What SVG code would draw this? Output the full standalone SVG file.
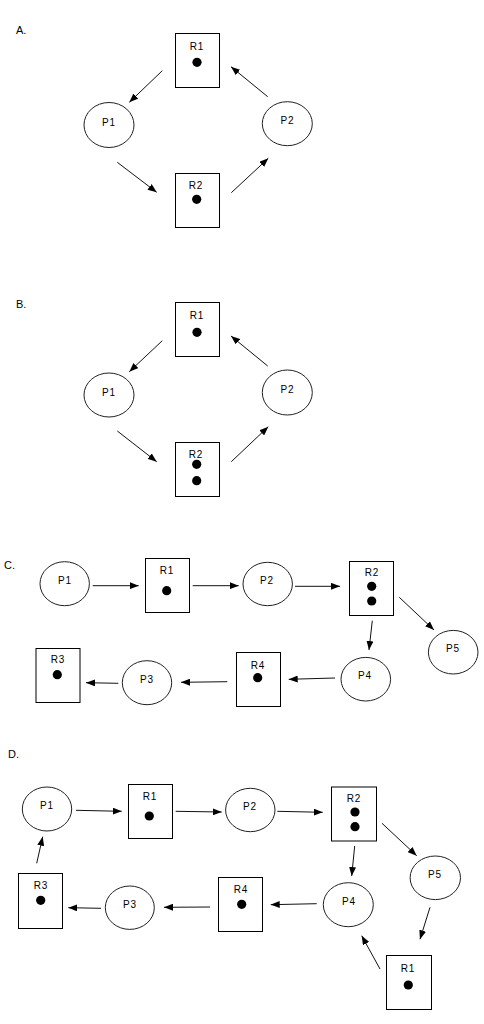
<svg xmlns="http://www.w3.org/2000/svg" width="484" height="1024" viewBox="0 0 484 1024">
<defs>
<marker id="ah" markerWidth="9" markerHeight="7" refX="9" refY="3.5" orient="auto" markerUnits="userSpaceOnUse">
<path d="M0,0 L9,3.5 L0,7 z" fill="#000"/>
</marker>
<style>
.bg{fill:#fff}
.r{fill:#fff;stroke:#000;stroke-width:1}
.p{fill:#fff;stroke:#222;stroke-width:1}
.d{fill:#000}
.t{font-family:"Liberation Sans",Arial,sans-serif;font-size:10px;fill:#000;text-anchor:middle;letter-spacing:0.8px}
.s{font-family:"Liberation Sans",Arial,sans-serif;font-size:11px;fill:#000}
.c line{stroke:#111;stroke-width:1;marker-end:url(#ah)}
</style>
</defs>
<rect class="bg" x="0" y="0" width="484" height="1024"/>

<!-- Section A -->
<text class="s" x="16" y="34">A.</text>
<g id="A-R1"><rect class="r" x="175.5" y="33.5" width="44" height="54"/><text class="t" x="197" y="50">R1</text><circle class="d" cx="197" cy="62.3" r="4.6"/></g>
<g id="A-P1"><ellipse class="p" cx="109" cy="125" rx="25" ry="22.5"/><text class="t" x="109" y="126">P1</text></g>
<g id="A-P2"><ellipse class="p" cx="287.3" cy="123.7" rx="25" ry="22"/><text class="t" x="287.5" y="124">P2</text></g>
<g id="A-R2"><rect class="r" x="175.5" y="173.5" width="44" height="54"/><text class="t" x="196" y="188.5">R2</text><circle class="d" cx="196.7" cy="199.3" r="4.6"/></g>
<g id="A-edges" class="c">
<line x1="162.3" y1="70.7" x2="129.3" y2="102.3"/>
<line x1="267.7" y1="96.7" x2="231" y2="66.7"/>
<line x1="117.3" y1="162.3" x2="156.7" y2="192.3"/>
<line x1="231.3" y1="192.7" x2="268.3" y2="158.3"/>
</g>

<!-- Section B -->
<text class="s" x="16" y="308">B.</text>
<g id="B-R1"><rect class="r" x="175.5" y="302.5" width="44" height="54"/><text class="t" x="197" y="318.5">R1</text><circle class="d" cx="197" cy="332.3" r="4.6"/></g>
<g id="B-P1"><ellipse class="p" cx="109" cy="395" rx="25" ry="22"/><text class="t" x="109" y="396">P1</text></g>
<g id="B-P2"><ellipse class="p" cx="287.3" cy="392.5" rx="25" ry="22.5"/><text class="t" x="287.5" y="393">P2</text></g>
<g id="B-R2"><rect class="r" x="175.5" y="442.5" width="44" height="54"/><text class="t" x="196" y="457.5">R2</text><circle class="d" cx="196.7" cy="464.3" r="4.6"/><circle class="d" cx="196.7" cy="480.7" r="4.6"/></g>
<g id="B-edges" class="c">
<line x1="162.3" y1="340.7" x2="129.3" y2="371.7"/>
<line x1="267.7" y1="366" x2="231" y2="336"/>
<line x1="117.3" y1="431" x2="156.7" y2="461.7"/>
<line x1="231.3" y1="461.7" x2="268.3" y2="426.7"/>
</g>

<!-- Section C -->
<text class="s" x="4" y="569">C.</text>
<g id="C-P1"><ellipse class="p" cx="64.7" cy="583.7" rx="24.7" ry="22"/><text class="t" x="65" y="584">P1</text></g>
<g id="C-R1"><rect class="r" x="145.5" y="558.5" width="44" height="54"/><text class="t" x="167" y="574">R1</text><circle class="d" cx="166.7" cy="590.7" r="4.6"/></g>
<g id="C-P2"><ellipse class="p" cx="267.7" cy="584" rx="24.7" ry="21.7"/><text class="t" x="267" y="584">P2</text></g>
<g id="C-R2"><rect class="r" x="349.5" y="561.5" width="44" height="54"/><text class="t" x="372" y="576">R2</text><circle class="d" cx="371.7" cy="586.3" r="4.6"/><circle class="d" cx="371.7" cy="601" r="4.6"/></g>
<g id="C-P5"><ellipse class="p" cx="453.2" cy="652.2" rx="24.8" ry="21.8"/><text class="t" x="453" y="652">P5</text></g>
<g id="C-P4"><ellipse class="p" cx="365.8" cy="679.2" rx="24.8" ry="21.8"/><text class="t" x="365" y="679">P4</text></g>
<g id="C-R4"><rect class="r" x="236.5" y="652.5" width="44" height="54"/><text class="t" x="258" y="668.5">R4</text><circle class="d" cx="257.7" cy="677.7" r="4.6"/></g>
<g id="C-P3"><ellipse class="p" cx="147" cy="682.7" rx="24.7" ry="22"/><text class="t" x="147" y="683">P3</text></g>
<g id="C-R3"><rect class="r" x="36" y="648.5" width="44" height="54"/><text class="t" x="58" y="662.5">R3</text><circle class="d" cx="57.3" cy="674.7" r="4.6"/></g>
<g id="C-edges" class="c">
<line x1="92.7" y1="585.7" x2="138.7" y2="585.7"/>
<line x1="192.7" y1="585.7" x2="238.7" y2="585.7"/>
<line x1="295" y1="586.3" x2="340" y2="586.3"/>
<line x1="399.3" y1="597.3" x2="434" y2="630"/>
<line x1="372.3" y1="620.7" x2="369" y2="650"/>
<line x1="335" y1="678" x2="288.7" y2="679.3"/>
<line x1="227.3" y1="681.7" x2="181" y2="682.3"/>
<line x1="118.3" y1="683.3" x2="86" y2="682.7"/>
</g>

<!-- Section D -->
<text class="s" x="8" y="758">D.</text>
<g id="D-P1"><ellipse class="p" cx="47" cy="809" rx="24.7" ry="22"/><text class="t" x="47" y="809">P1</text></g>
<g id="D-R1"><rect class="r" x="128.5" y="784.5" width="44" height="54"/><text class="t" x="150" y="800">R1</text><circle class="d" cx="149.3" cy="816" r="4.6"/></g>
<g id="D-P2"><ellipse class="p" cx="250.3" cy="810" rx="24.7" ry="21.7"/><text class="t" x="250" y="810">P2</text></g>
<g id="D-R2"><rect class="r" x="331.5" y="787" width="45" height="54"/><text class="t" x="354" y="802">R2</text><circle class="d" cx="355" cy="812" r="4.6"/><circle class="d" cx="355" cy="826.7" r="4.6"/></g>
<g id="D-P5"><ellipse class="p" cx="435.3" cy="877.8" rx="25.2" ry="21.8"/><text class="t" x="435" y="878">P5</text></g>
<g id="D-P4"><ellipse class="p" cx="348.3" cy="904.7" rx="25" ry="22"/><text class="t" x="349" y="905">P4</text></g>
<g id="D-R4"><rect class="r" x="218.5" y="877.5" width="44" height="54"/><text class="t" x="241" y="893">R4</text><circle class="d" cx="241.7" cy="904.3" r="4.6"/></g>
<g id="D-P3"><ellipse class="p" cx="129.8" cy="907.7" rx="24.5" ry="21.7"/><text class="t" x="130" y="908">P3</text></g>
<g id="D-R3"><rect class="r" x="18.5" y="873.5" width="44" height="55"/><text class="t" x="41" y="889">R3</text><circle class="d" cx="40.7" cy="900.3" r="4.6"/></g>
<g id="D-R1b"><rect class="r" x="386.5" y="955.5" width="45" height="54"/><text class="t" x="408" y="971.5">R1</text><circle class="d" cx="408.3" cy="985" r="4.6"/></g>
<g id="D-edges" class="c">
<line x1="76" y1="810.3" x2="121.7" y2="811.3"/>
<line x1="175.7" y1="811.3" x2="221.7" y2="812"/>
<line x1="277.3" y1="811.3" x2="322.7" y2="812.3"/>
<line x1="382" y1="823.3" x2="416.7" y2="855.7"/>
<line x1="354.7" y1="846" x2="351.7" y2="876"/>
<line x1="430" y1="907.3" x2="420" y2="939.3"/>
<line x1="380" y1="969" x2="361.7" y2="935.7"/>
<line x1="316.7" y1="903.7" x2="270.7" y2="904.7"/>
<line x1="210" y1="907" x2="164" y2="907.3"/>
<line x1="101" y1="908.3" x2="68.3" y2="907.7"/>
<line x1="36.7" y1="863.3" x2="42.7" y2="836.7"/>
</g>
</svg>
